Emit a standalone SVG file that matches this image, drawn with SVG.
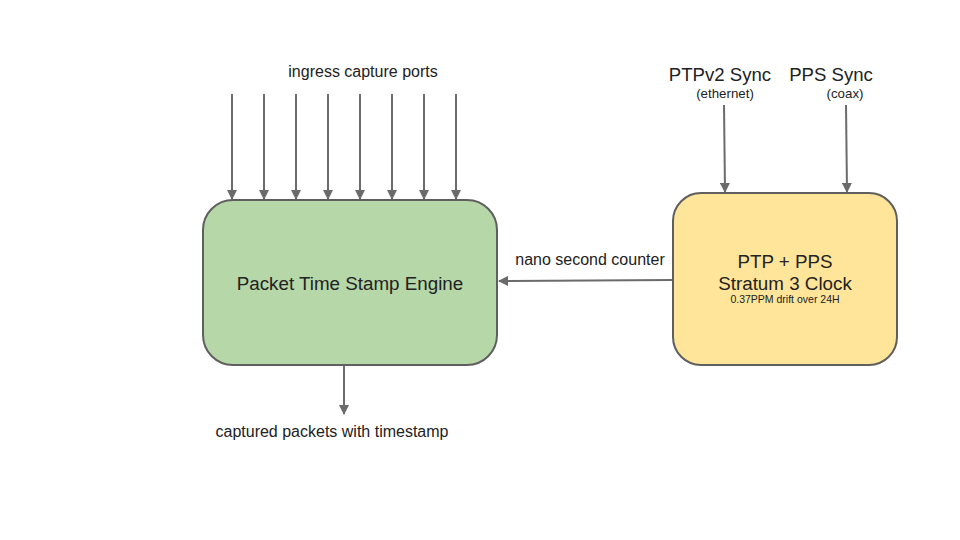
<svg xmlns="http://www.w3.org/2000/svg" width="960" height="540" viewBox="0 0 960 540">
<style>
text{font-family:"Liberation Sans",Arial,sans-serif;fill:#222}
.c{stroke:#6b6b6b;stroke-width:2;fill:none}
.n{stroke:#5f5f5f;stroke-width:2}
</style>
<defs>
<marker id="a" viewBox="0 0 10 10" refX="9" refY="5" markerWidth="5" markerHeight="5" orient="auto" markerUnits="strokeWidth">
<path d="M0,0 L10,5 L0,10 z" fill="#6b6b6b"/>
</marker>
</defs>
<rect width="960" height="540" fill="#fff"/>
<g id="connectors">
<line class="c" x1="232" y1="94" x2="232" y2="199" marker-end="url(#a)"/>
<line class="c" x1="264" y1="94" x2="264" y2="199" marker-end="url(#a)"/>
<line class="c" x1="296" y1="94" x2="296" y2="199" marker-end="url(#a)"/>
<line class="c" x1="328" y1="94" x2="328" y2="199" marker-end="url(#a)"/>
<line class="c" x1="360" y1="94" x2="360" y2="199" marker-end="url(#a)"/>
<line class="c" x1="392" y1="94" x2="392" y2="199" marker-end="url(#a)"/>
<line class="c" x1="424" y1="94" x2="424" y2="199" marker-end="url(#a)"/>
<line class="c" x1="456" y1="94" x2="456" y2="199" marker-end="url(#a)"/>
<line class="c" x1="724" y1="105" x2="725" y2="192" marker-end="url(#a)"/>
<line class="c" x1="846" y1="105" x2="847" y2="192" marker-end="url(#a)"/>
<line class="c" x1="673" y1="280" x2="499" y2="281" marker-end="url(#a)"/>
<line class="c" x1="344" y1="365" x2="344" y2="414" marker-end="url(#a)"/>
<text x="590" y="265" font-size="16" text-anchor="middle">nano second counter</text>
</g>
<text x="363" y="77" font-size="16" text-anchor="middle">ingress capture ports</text>
<text x="720" y="81" font-size="18.6" text-anchor="middle">PTPv2 Sync</text>
<text x="725" y="98" font-size="13.3" text-anchor="middle">(ethernet)</text>
<text x="831" y="81" font-size="18.6" text-anchor="middle">PPS Sync</text>
<text x="845" y="98" font-size="13.3" text-anchor="middle">(coax)</text>
<text x="332" y="437" font-size="16" text-anchor="middle">captured packets with timestamp</text>
<g id="engine">
<rect class="n" x="203" y="200" width="294" height="165" rx="30" fill="#b6d7a8"/>
<text x="350" y="290" font-size="18.8" text-anchor="middle">Packet Time Stamp Engine</text>
</g>
<g id="clock">
<rect class="n" x="673" y="193" width="224" height="172" rx="28" fill="#ffe599"/>
<text x="785" y="268" font-size="18.8" text-anchor="middle">PTP + PPS</text>
<text x="785" y="290" font-size="18.8" text-anchor="middle">Stratum 3 Clock</text>
<text x="785" y="303" font-size="10.5" text-anchor="middle">0.37PPM drift over 24H</text>
</g>
</svg>
